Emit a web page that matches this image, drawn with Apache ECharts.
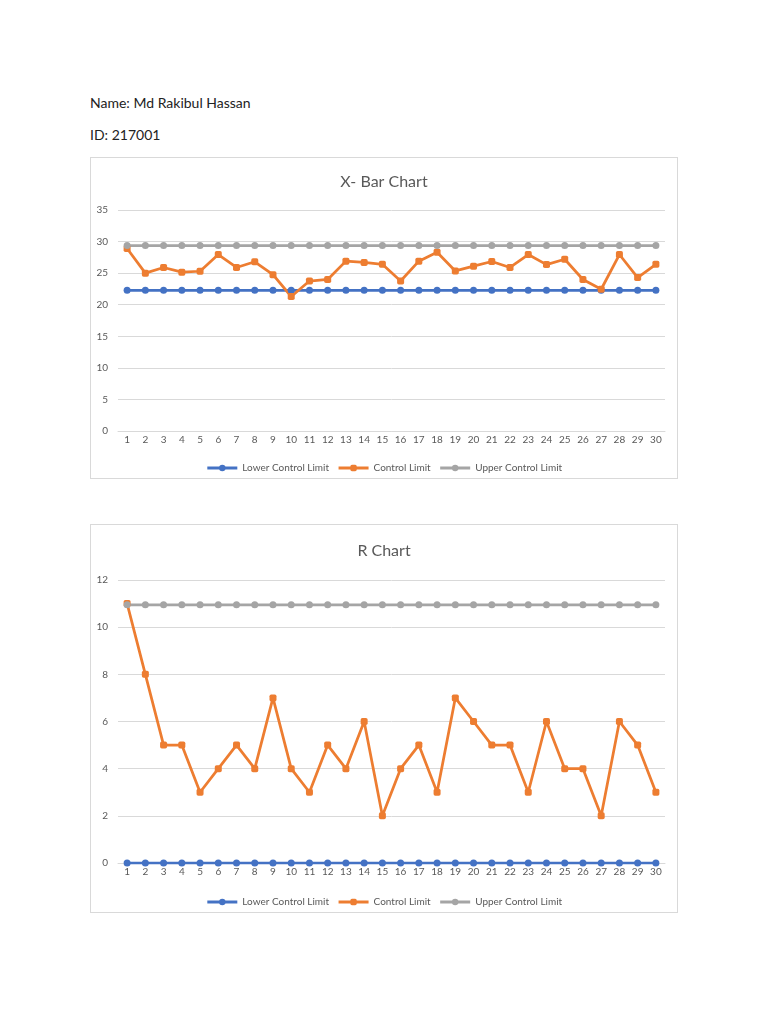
<!DOCTYPE html>
<html>
<head>
<meta charset="utf-8">
<script src="https://cdn.jsdelivr.net/npm/echarts@6/dist/echarts.min.js"></script>
<style>
  body { margin: 0; background: #fff; font-family: Lato, "Open Sans", sans-serif; }
  .txt { position: absolute; left: 90px; font-size: 14px; color: #222; }
  .box { position: absolute; left: 90px; width: 586px; border: 1px solid #d9d9d9; background: #fff; }
</style>
</head>
<body>
<div class="txt" style="top:94px">Name: Md Rakibul Hassan</div>
<div class="txt" style="top:126px">ID: 217001</div>
<div id="xbar" class="box" style="top:157px;height:320px"></div>
<div id="rchart" class="box" style="top:524px;height:387px"></div>
<script>
// sample numbers 1..30
const samples = [];
for (let i = 1; i <= 30; i++) samples.push(String(i));

// X-bar chart values
const xbarValues = [28.9, 25.0, 25.9, 25.15, 25.3, 27.95, 25.9, 26.8, 24.75, 21.3,
                    23.75, 24.0, 26.9, 26.7, 26.4, 23.75, 26.9, 28.3, 25.35, 26.1,
                    26.85, 25.9, 27.95, 26.35, 27.2, 24.0, 22.45, 27.95, 24.3, 26.4];
const xbarLCL = 22.28;
const xbarUCL = 29.36;

// R chart values
const rValues = [11, 8, 5, 5, 3, 4, 5, 4, 7, 4, 3, 5, 4, 6, 2, 4, 5, 3, 7, 6,
                 5, 5, 3, 6, 4, 4, 2, 6, 5, 3];
const rLCL = 0;
const rUCL = 10.95;

const colors = ['#4472C4', '#ED7D31', '#A5A5A5'];
const labelColor = '#595959';

function flat(v) {
    return samples.map(function () { return v; });
}

function makeOption(title, yMax, yInterval, lcl, vals, ucl, gridTop, gridBottom, titleTop) {
    const lineSeries = function (name, data, color, symbol) {
        return {
            name: name,
            type: 'line',
            data: data,
            symbol: symbol,
            symbolSize: 7,
            lineStyle: { color: color, width: 2.75 },
            itemStyle: { color: color },
            emphasis: { disabled: true },
            animation: false
        };
    };
    return {
        color: colors,
        textStyle: { fontFamily: 'Lato, "Open Sans", sans-serif' },
        title: {
            text: title,
            left: 'center',
            top: titleTop,
            textStyle: { fontSize: 16, fontWeight: 'normal', color: labelColor }
        },
        legend: {
            bottom: 0,
            itemWidth: 30,
            itemHeight: 8,
            itemGap: 8,
            lineStyle: { width: 3 },
            textStyle: { fontSize: 10, color: labelColor },
            data: ['Lower Control Limit', 'Control Limit', 'Upper Control Limit']
        },
        grid: { left: 27, right: 12, top: gridTop, bottom: gridBottom },
        xAxis: {
            type: 'category',
            data: samples,
            boundaryGap: true,
            axisLine: { lineStyle: { color: '#d9d9d9' } },
            axisTick: { show: false },
            axisLabel: { color: labelColor, fontSize: 10, margin: 4 }
        },
        yAxis: {
            type: 'value',
            min: 0,
            max: yMax,
            interval: yInterval,
            axisLine: { show: false },
            axisTick: { show: false },
            axisLabel: { color: labelColor, fontSize: 10, margin: 10 },
            splitLine: { lineStyle: { color: '#d9d9d9' } }
        },
        series: [
            lineSeries('Lower Control Limit', flat(lcl), colors[0], 'circle'),
            lineSeries('Control Limit', vals, colors[1], 'roundRect'),
            lineSeries('Upper Control Limit', flat(ucl), colors[2], 'circle')
        ]
    };
}

const xbarChart = echarts.init(document.getElementById('xbar'));
xbarChart.setOption(makeOption('X- Bar Chart', 35, 5, xbarLCL, xbarValues, xbarUCL, 52, 47, 11));

const rChart = echarts.init(document.getElementById('rchart'));
rChart.setOption(makeOption('R Chart', 12, 2, rLCL, rValues, rUCL, 55, 49, 13));
</script>
</body>
</html>
